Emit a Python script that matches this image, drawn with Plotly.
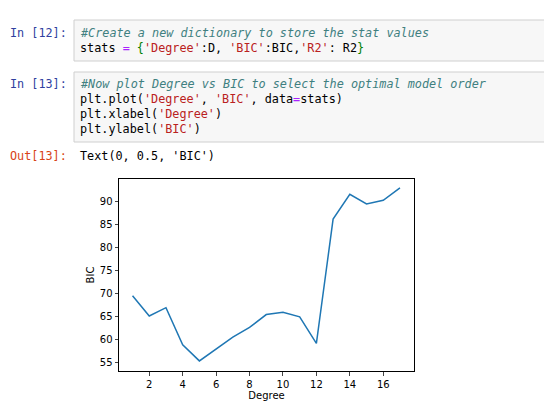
import plotly.graph_objects as go

degree = list(range(1, 18))
bic = [69.5, 65.1, 66.9, 58.8, 55.3, 57.9, 60.5, 62.6, 65.4, 65.9, 64.9, 59.1, 86.2, 91.6, 89.5, 90.3, 93.0]
x_ticks = [2, 4, 6, 8, 10, 12, 14, 16]
y_ticks = [55, 60, 65, 70, 75, 80, 85, 90]

W, H = 552, 417
OFF = 8  # page body margin
fig = go.Figure(go.Scatter(x=degree, y=bic, mode="lines", line=dict(color="#1f77b4", width=1.5)))

def px(x): return (x - OFF) / W
def py(y): return 1 - (y - OFF) / H

C = "#408080"; S = "#BA2121"; G = "#008000"; P = "#AA22FF"
def c(t, col, it=False):
    s = f'<span style="color:{col}">{t}</span>'
    return f"<i>{s}</i>" if it else s

lines = [
    (33, c("#Create a new dictionary to store the stat values", C, True)),
    (48, "stats " + c("=", P) + " " + c("{", G) + c("'Degree'", S) + ":D, " + c("'BIC'", S) + ":BIC," + c("'R2'", S) + ": R2" + c("}", G)),
    (84, c("#Now plot Degree vs BIC to select the optimal model order", C, True)),
    (99, "plt.plot(" + c("'Degree'", S) + ", " + c("'BIC'", S) + ", data" + c("=", P) + "stats)"),
    (114, "plt.xlabel(" + c("'Degree'", S) + ")"),
    (129, "plt.ylabel(" + c("'BIC'", S) + ")"),
    (156, "Text(0, 0.5, 'BIC')"),
]
FS = 11.8
font = dict(family="DejaVu Sans Mono", size=FS, color="#000")
ann = []
for y, t in lines:
    ann.append(dict(x=px(78), y=py(y), xref="paper", yref="paper", text=t, showarrow=False,
                    xanchor="left", yanchor="middle", font=font))
for y, t, col in [(33, "In [12]:", "#303F9F"), (84, "In [13]:", "#303F9F"), (156, "Out[13]:", "#D84315")]:
    ann.append(dict(x=px(69), y=py(y), xref="paper", yref="paper", text=t, showarrow=False,
                    xanchor="right", yanchor="middle", font=dict(family="DejaVu Sans Mono", size=FS, color=col)))

shapes = []
for y0, y1 in [(20, 61), (72, 142)]:
    shapes.append(dict(type="rect", xref="paper", yref="paper", x0=px(74), x1=px(570), y0=py(y1), y1=py(y0),
                       fillcolor="#f7f7f7", line=dict(color="#cfcfcf", width=1), layer="below"))

tf = dict(family="DejaVu Sans", size=10, color="black")
fig.update_layout(
    width=W, height=H, autosize=False, margin=dict(l=0, r=0, t=0, b=0),
    paper_bgcolor="white", plot_bgcolor="white", showlegend=False,
    annotations=ann, shapes=shapes,
    xaxis=dict(domain=[px(119), px(414)], range=[0.19, 17.84], tickvals=x_ticks, ticks="outside", ticklen=3.5,
               showgrid=False, zeroline=False, showline=True, mirror=True, linecolor="black", linewidth=1,
               tickfont=tf, title=dict(text="Degree", font=tf, standoff=3)),
    yaxis=dict(domain=[py(371), py(179)], range=[53.1, 94.95], tickvals=y_ticks, ticks="outside", ticklen=3.5,
               showgrid=False, zeroline=False, showline=True, mirror=True, linecolor="black", linewidth=1,
               tickfont=tf, title=dict(text="BIC", font=tf, standoff=3)),
)
fig.write_html("out.html")
